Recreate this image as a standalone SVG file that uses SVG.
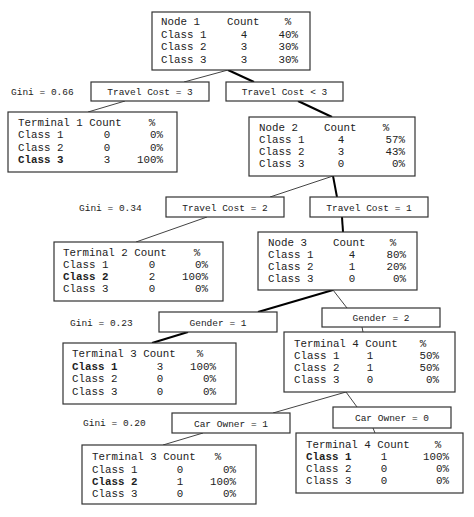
<svg xmlns="http://www.w3.org/2000/svg" width="474" height="517" viewBox="0 0 474 517">
<style>
.box{fill:#fff;stroke:#333;stroke-width:1.2}
text{font-family:"Liberation Mono","Courier New",monospace;font-size:10.8px;fill:#222}
.l{font-size:9.5px}
.b{font-weight:bold}
.m{text-anchor:middle}
.e{text-anchor:end}
.thin{stroke:#444;stroke-width:1;fill:none}
.thick{stroke:#000;stroke-width:2;fill:none}
</style>
<rect width="474" height="517" fill="#fff"/>
<g id="connectors">
<line class="thin" x1="228" y1="70" x2="184" y2="82"/>
<line class="thick" x1="228" y1="70" x2="254" y2="82"/>
<line class="thin" x1="125" y1="101" x2="88" y2="112"/>
<line class="thick" x1="298" y1="101" x2="332" y2="117"/>
<line class="thin" x1="333" y1="176" x2="270" y2="197"/>
<line class="thick" x1="333" y1="176" x2="337" y2="197"/>
<line class="thin" x1="207" y1="217" x2="136" y2="242"/>
<line class="thick" x1="342" y1="217" x2="343" y2="232"/>
<line class="thick" x1="333" y1="290" x2="258" y2="312"/>
<line class="thin" x1="333" y1="290" x2="347" y2="308"/>
<line class="thin" x1="362" y1="327" x2="363" y2="332"/>
<line class="thick" x1="188" y1="332" x2="152" y2="343"/>
<line class="thin" x1="346" y1="392" x2="273" y2="413"/>
<line class="thin" x1="346" y1="392" x2="357" y2="407"/>
<line class="thin" x1="203" y1="433" x2="163" y2="445"/>
<line class="thin" x1="373" y1="428" x2="375" y2="433"/>
</g>
<g id="node1">
<rect class="box" x="152" y="12" width="158" height="58"/>
<text x="161" y="25">Node 1</text><text x="227" y="25">Count</text><text class="m" x="288" y="25">%</text>
<text x="161" y="37.5">Class 1</text><text class="m" x="244" y="37.5">4</text><text class="e" x="298" y="37.5">40%</text>
<text x="161" y="50">Class 2</text><text class="m" x="244" y="50">3</text><text class="e" x="298" y="50">30%</text>
<text x="161" y="62.5">Class 3</text><text class="m" x="244" y="62.5">3</text><text class="e" x="298" y="62.5">30%</text>
</g>
<g id="gini1"><text class="l" x="11" y="95">Gini = 0.66</text></g>
<g id="split-tc3">
<rect class="box" x="91" y="82" width="118" height="19"/>
<text class="l m" x="150" y="95">Travel Cost = 3</text>
</g>
<g id="split-tclt3">
<rect class="box" x="226" y="82" width="117" height="19"/>
<text class="l m" x="284.5" y="95">Travel Cost &lt; 3</text>
</g>
<g id="terminal1">
<rect class="box" x="8" y="112" width="169" height="60"/>
<text x="18" y="126">Terminal 1 Count</text><text class="m" x="152" y="126">%</text>
<text x="18" y="138">Class 1</text><text class="m" x="107" y="138">0</text><text class="e" x="163" y="138">0%</text>
<text x="18" y="151">Class 2</text><text class="m" x="107" y="151">0</text><text class="e" x="163" y="151">0%</text>
<text class="b" x="18" y="163">Class 3</text><text class="m" x="107" y="163">3</text><text class="e" x="163" y="163">100%</text>
</g>
<g id="node2">
<rect class="box" x="249" y="117" width="166" height="59"/>
<text x="259" y="131">Node 2</text><text x="324" y="131">Count</text><text class="m" x="386" y="131">%</text>
<text x="259" y="143">Class 1</text><text class="m" x="341" y="143">4</text><text class="e" x="405" y="143">57%</text>
<text x="259" y="155">Class 2</text><text class="m" x="341" y="155">3</text><text class="e" x="405" y="155">43%</text>
<text x="259" y="167">Class 3</text><text class="m" x="341" y="167">0</text><text class="e" x="405" y="167">0%</text>
</g>
<g id="gini2"><text class="l" x="79" y="211">Gini = 0.34</text></g>
<g id="split-tc2">
<rect class="box" x="166" y="197" width="118" height="20"/>
<text class="l m" x="225" y="210.5">Travel Cost = 2</text>
</g>
<g id="split-tc1">
<rect class="box" x="310" y="197" width="118" height="20"/>
<text class="l m" x="369" y="210.5">Travel Cost = 1</text>
</g>
<g id="terminal2">
<rect class="box" x="54" y="242" width="169" height="59"/>
<text x="63" y="256">Terminal 2 Count</text><text class="m" x="197" y="256">%</text>
<text x="63" y="268">Class 1</text><text class="m" x="152" y="268">0</text><text class="e" x="208" y="268">0%</text>
<text class="b" x="63" y="280">Class 2</text><text class="m" x="152" y="280">2</text><text class="e" x="208" y="280">100%</text>
<text x="63" y="292">Class 3</text><text class="m" x="152" y="292">0</text><text class="e" x="208" y="292">0%</text>
</g>
<g id="node3">
<rect class="box" x="258" y="232" width="159" height="58"/>
<text x="268" y="246">Node 3</text><text x="333" y="246">Count</text><text class="m" x="393" y="246">%</text>
<text x="268" y="258">Class 1</text><text class="m" x="352" y="258">4</text><text class="e" x="406" y="258">80%</text>
<text x="268" y="270">Class 2</text><text class="m" x="352" y="270">1</text><text class="e" x="406" y="270">20%</text>
<text x="268" y="282">Class 3</text><text class="m" x="352" y="282">0</text><text class="e" x="406" y="282">0%</text>
</g>
<g id="gini3"><text class="l" x="70" y="326">Gini = 0.23</text></g>
<g id="split-g1">
<rect class="box" x="159" y="312" width="118" height="20"/>
<text class="l m" x="218" y="325.5">Gender = 1</text>
</g>
<g id="split-g2">
<rect class="box" x="322" y="308" width="118" height="19"/>
<text class="l m" x="381" y="321">Gender = 2</text>
</g>
<g id="terminal3">
<rect class="box" x="63" y="343" width="173" height="61"/>
<text x="72" y="357">Terminal 3 Count</text><text class="m" x="200" y="357">%</text>
<text class="b" x="72" y="370">Class 1</text><text class="m" x="160" y="370">3</text><text class="e" x="216" y="370">100%</text>
<text x="72" y="382">Class 2</text><text class="m" x="160" y="382">0</text><text class="e" x="216" y="382">0%</text>
<text x="72" y="395">Class 3</text><text class="m" x="160" y="395">0</text><text class="e" x="216" y="395">0%</text>
</g>
<g id="terminal4">
<rect class="box" x="284" y="332" width="171" height="60"/>
<text x="294" y="347">Terminal 4 Count</text><text class="m" x="423" y="347">%</text>
<text x="294" y="359">Class 1</text><text class="m" x="370" y="359">1</text><text class="e" x="439" y="359">50%</text>
<text x="294" y="371">Class 2</text><text class="m" x="370" y="371">1</text><text class="e" x="439" y="371">50%</text>
<text x="294" y="383">Class 3</text><text class="m" x="370" y="383">0</text><text class="e" x="439" y="383">0%</text>
</g>
<g id="gini4"><text class="l" x="83" y="426">Gini = 0.20</text></g>
<g id="split-co1">
<rect class="box" x="172" y="413" width="118" height="20"/>
<text class="l m" x="231" y="426.5">Car Owner = 1</text>
</g>
<g id="split-co0">
<rect class="box" x="333" y="407" width="118" height="21"/>
<text class="l m" x="392" y="420.5">Car Owner = 0</text>
</g>
<g id="terminal3b">
<rect class="box" x="82" y="445" width="174" height="59"/>
<text x="92" y="460">Terminal 3 Count</text><text class="m" x="218" y="460">%</text>
<text x="92" y="472.5">Class 1</text><text class="m" x="180" y="472.5">0</text><text class="e" x="236" y="472.5">0%</text>
<text class="b" x="92" y="485">Class 2</text><text class="m" x="180" y="485">1</text><text class="e" x="236" y="485">100%</text>
<text x="92" y="497">Class 3</text><text class="m" x="180" y="497">0</text><text class="e" x="236" y="497">0%</text>
</g>
<g id="terminal4b">
<rect class="box" x="296" y="433" width="167" height="60"/>
<text x="306" y="448">Terminal 4 Count</text><text class="m" x="438" y="448">%</text>
<text class="b" x="306" y="460">Class 1</text><text class="m" x="384" y="460">1</text><text class="e" x="449" y="460">100%</text>
<text x="306" y="472">Class 2</text><text class="m" x="384" y="472">0</text><text class="e" x="449" y="472">0%</text>
<text x="306" y="484">Class 3</text><text class="m" x="384" y="484">0</text><text class="e" x="449" y="484">0%</text>
</g>
</svg>
